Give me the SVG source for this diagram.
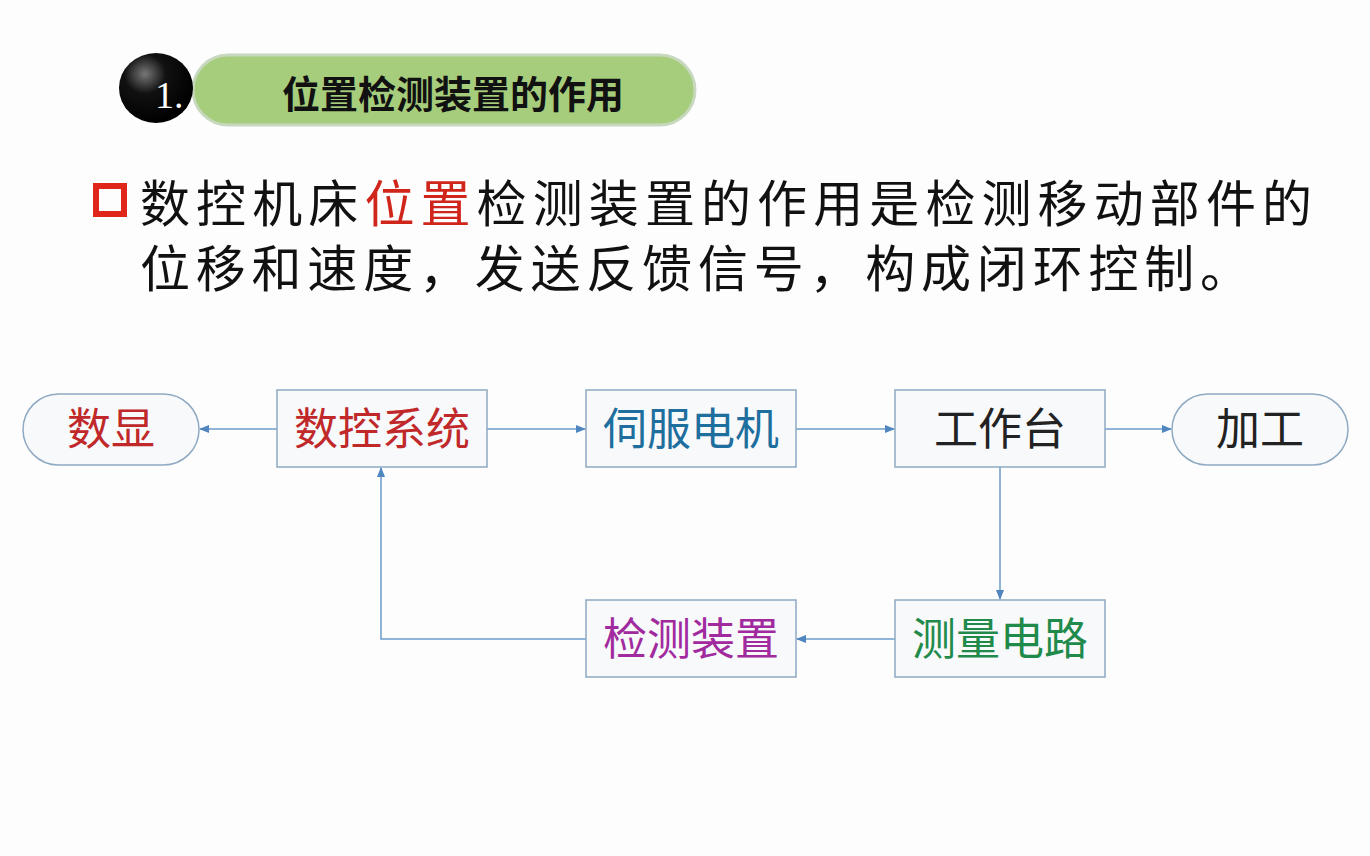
<svg xmlns="http://www.w3.org/2000/svg" width="1370" height="856" viewBox="0 0 1370 856">
<defs>
<style>
.box{fill:#f7f9fb;stroke:#8fa9c2;stroke-width:1.5}
.nt{font-family:"Noto Sans CJK SC",sans-serif;font-size:44px;text-anchor:middle}
.c{fill:none;stroke:#6b9cc8;stroke-width:1.5}
</style>
<marker id="ar" viewBox="0 0 10 10" refX="9" refY="5" markerWidth="7" markerHeight="7" orient="auto"><path d="M0,1 L10,5 L0,9 z" fill="#4f86c0"/></marker>
<radialGradient id="ball" cx="0.35" cy="0.3" r="0.7"><stop offset="0" stop-color="#777"/><stop offset="0.4" stop-color="#111"/><stop offset="1" stop-color="#000"/></radialGradient>
</defs>
<rect width="1370" height="856" fill="#fdfdfd"/>
<g id="header">
<rect x="193" y="55" width="502" height="70" rx="35" fill="#a5cd7c" stroke="#c8d8bf" stroke-width="3"/>
<text x="453" y="108" font-family="Noto Sans CJK SC,serif" font-size="38" font-weight="bold" text-anchor="middle" fill="#111">位置检测装置的作用</text>
<ellipse cx="156" cy="88" rx="37" ry="35" fill="url(#ball)"/>
<text x="155" y="108" font-family="Liberation Serif,serif" font-size="38" fill="#fff">1.</text>
</g>
<g id="intro">
<rect x="96" y="186" width="28" height="28" fill="none" stroke="#e0261b" stroke-width="6"/>
<text x="140" y="222" font-family="Noto Sans CJK SC,sans-serif" font-size="50" fill="#111" textLength="1172">数控机床<tspan fill="#d0251b">位置</tspan>检测装置的作用是检测移动部件的</text>
<text x="140" y="287" font-family="Noto Sans CJK SC,sans-serif" font-size="50" fill="#111" textLength="1110">位移和速度，发送反馈信号，构成闭环控制。</text>
</g>
<g id="connectors">
<line class="c" x1="277" y1="429" x2="200" y2="429" marker-end="url(#ar)"/>
<line class="c" x1="487" y1="429" x2="585" y2="429" marker-end="url(#ar)"/>
<line class="c" x1="796" y1="429" x2="894" y2="429" marker-end="url(#ar)"/>
<line class="c" x1="1105" y1="429" x2="1171" y2="429" marker-end="url(#ar)"/>
<line class="c" x1="1000" y1="467" x2="1000" y2="599" marker-end="url(#ar)"/>
<line class="c" x1="895" y1="639" x2="797" y2="639" marker-end="url(#ar)"/>
<path class="c" d="M586,639 H381 V468" marker-end="url(#ar)"/>
</g>
<g id="n-shuxian"><rect class="box" x="23" y="394" width="176" height="71" rx="35.5"/><text class="nt" x="111" y="445" fill="#c0282a">数显</text></g>
<g id="n-shukong"><rect class="box" x="277" y="390" width="210" height="77"/><text class="nt" x="382" y="445" fill="#c0282a">数控系统</text></g>
<g id="n-sifu"><rect class="box" x="586" y="390" width="210" height="77"/><text class="nt" x="691" y="445" fill="#1e6e9e">伺服电机</text></g>
<g id="n-gongzuotai"><rect class="box" x="895" y="390" width="210" height="77"/><text class="nt" x="1000" y="445" fill="#222">工作台</text></g>
<g id="n-jiagong"><rect class="box" x="1172" y="394" width="176" height="71" rx="35.5"/><text class="nt" x="1260" y="445" fill="#222">加工</text></g>
<g id="n-jiance"><rect class="box" x="586" y="600" width="210" height="77"/><text class="nt" x="691" y="655" fill="#a12a9e">检测装置</text></g>
<g id="n-celiang"><rect class="box" x="895" y="600" width="210" height="77"/><text class="nt" x="1000" y="655" fill="#1f8a4a">测量电路</text></g>
</svg>
